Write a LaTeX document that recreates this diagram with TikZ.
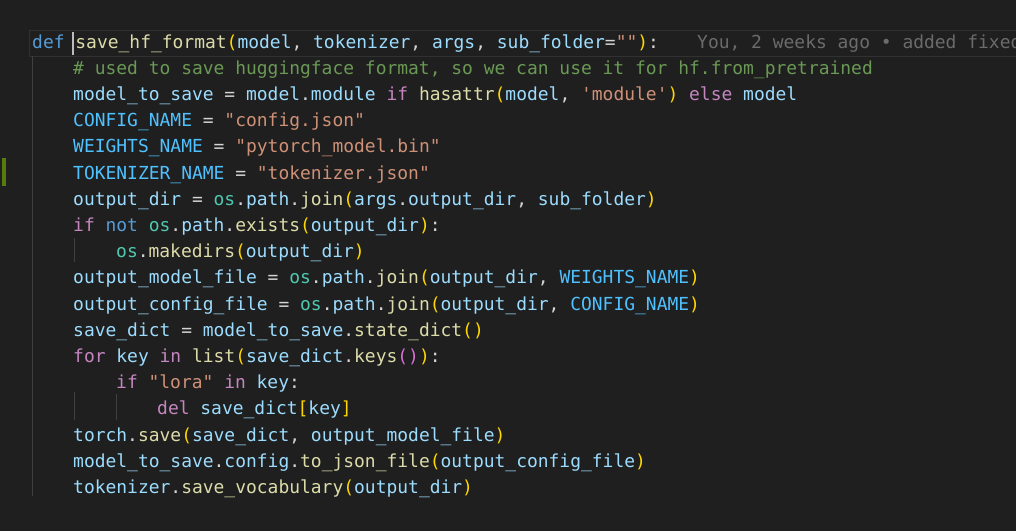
\documentclass[tikz,border=0pt]{standalone}
\usepackage{fontspec}
\newfontfamily\codefont{DejaVu Sans Mono}
\definecolor{bgc}{HTML}{1F1F1F}
\definecolor{txt}{HTML}{D4D4D4}
\definecolor{kwc}{HTML}{569CD6}
\definecolor{fnc}{HTML}{DCDCAA}
\definecolor{vac}{HTML}{9CDCFE}
\definecolor{cmc}{HTML}{6A9955}
\definecolor{stc}{HTML}{CE9178}
\definecolor{ctc}{HTML}{C586C0}
\definecolor{moc}{HTML}{4EC9B0}
\definecolor{ylc}{HTML}{FFD700}
\definecolor{pkc}{HTML}{DA70D6}
\definecolor{cnc}{HTML}{4FC1FF}
\definecolor{blc}{HTML}{6B6B6B}
\definecolor{gdc}{HTML}{404040}
\definecolor{gmc}{HTML}{587C0C}
\newcommand\cK[1]{\textcolor{kwc}{#1}}
\newcommand\cF[1]{\textcolor{fnc}{#1}}
\newcommand\cV[1]{\textcolor{vac}{#1}}
\newcommand\cC[1]{\textcolor{cmc}{#1}}
\newcommand\cS[1]{\textcolor{stc}{#1}}
\newcommand\cP[1]{\textcolor{ctc}{#1}}
\newcommand\cM[1]{\textcolor{moc}{#1}}
\newcommand\cY[1]{\textcolor{ylc}{#1}}
\newcommand\cB[1]{\textcolor{pkc}{#1}}
\newcommand\cN[1]{\textcolor{cnc}{#1}}
\tikzset{x=1pt,y=-1pt,
 codeline/.style={anchor=base west,inner sep=0,text=txt,font=\codefont\fontsize{17.95}{20}\selectfont},
 guide/.style={draw=gdc,line width=1pt}}
\newcommand\cl[4]{\node[codeline] (#1) at (#2,{48+26.2*#3}) {#4};}
\begin{document}
\begin{tikzpicture}
\fill[bgc] (0,0) rectangle (1016,531);
\useasboundingbox (0,0) rectangle (1016,531);
\draw[draw=white!8!bgc,line width=1pt] (29,30) rectangle (1020,56);
\draw[guide] (32,56) -- (32,496);
\draw[guide] (74,238) -- (74,262);
\draw[guide] (74,392) -- (74,420);
\draw[guide] (116,394) -- (116,420);
\fill[gmc] (2,158) rectangle (6,186);
\cl{l0}{32}{0}{\cK{def} \cF{save\_hf\_format}\cY{(}\cV{model}, \cV{tokenizer}, \cV{args}, \cV{sub\_folder}=\cS{""}\cY{)}:}
\node[codeline,text=blc] (blame) at (697,48) {You, 2 weeks ago • added fixed};
\draw[white!70!bgc,line width=1.2pt] (73,32) -- (73,55);
\cl{l1}{73}{1}{\cC{\# used to save huggingface format, so we can use it for hf.from\_pretrained}}
\cl{l2}{73}{2}{\cV{model\_to\_save} = \cV{model}.\cV{module} \cP{if} \cF{hasattr}\cY{(}\cV{model}, \cS{'module'}\cY{)} \cP{else} \cV{model}}
\cl{l3}{73}{3}{\cN{CONFIG\_NAME} = \cS{"config.json"}}
\cl{l4}{73}{4}{\cN{WEIGHTS\_NAME} = \cS{"pytorch\_model.bin"}}
\cl{l5}{73}{5}{\cN{TOKENIZER\_NAME} = \cS{"tokenizer.json"}}
\cl{l6}{73}{6}{\cV{output\_dir} = \cM{os}.\cV{path}.\cF{join}\cY{(}\cV{args}.\cV{output\_dir}, \cV{sub\_folder}\cY{)}}
\cl{l7}{73}{7}{\cP{if} \cK{not} \cM{os}.\cV{path}.\cF{exists}\cY{(}\cV{output\_dir}\cY{)}:}
\cl{l8}{116}{8}{\cM{os}.\cF{makedirs}\cY{(}\cV{output\_dir}\cY{)}}
\cl{l9}{73}{9}{\cV{output\_model\_file} = \cM{os}.\cV{path}.\cF{join}\cY{(}\cV{output\_dir}, \cN{WEIGHTS\_NAME}\cY{)}}
\cl{l10}{73}{10}{\cV{output\_config\_file} = \cM{os}.\cV{path}.\cF{join}\cY{(}\cV{output\_dir}, \cN{CONFIG\_NAME}\cY{)}}
\cl{l11}{73}{11}{\cV{save\_dict} = \cV{model\_to\_save}.\cF{state\_dict}\cY{()}}
\cl{l12}{73}{12}{\cP{for} \cV{key} \cP{in} \cF{list}\cY{(}\cV{save\_dict}.\cF{keys}\cB{()}\cY{)}:}
\cl{l13}{116}{13}{\cP{if} \cS{"lora"} \cP{in} \cV{key}:}
\cl{l14}{157}{14}{\cP{del} \cV{save\_dict}\cY{[}\cV{key}\cY{]}}
\cl{l15}{73}{15}{\cV{torch}.\cF{save}\cY{(}\cV{save\_dict}, \cV{output\_model\_file}\cY{)}}
\cl{l16}{73}{16}{\cV{model\_to\_save}.\cV{config}.\cF{to\_json\_file}\cY{(}\cV{output\_config\_file}\cY{)}}
\cl{l17}{73}{17}{\cV{tokenizer}.\cF{save\_vocabulary}\cY{(}\cV{output\_dir}\cY{)}}
\end{tikzpicture}
\end{document}
